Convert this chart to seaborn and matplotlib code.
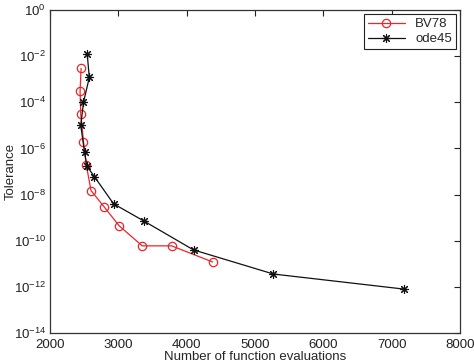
import numpy as np
import pandas as pd
import seaborn as sns
import matplotlib
matplotlib.use("Agg")
import matplotlib.pyplot as plt

# BV78 results
bv78_evals = [2455, 2440, 2450, 2490, 2530, 2600, 2790, 3010, 3350, 3780, 4380]
bv78_tol = [3e-3, 3e-4, 3e-5, 2e-6, 2e-7, 1.5e-8, 3e-9, 4.5e-10, 6e-11, 6e-11, 1.2e-11]

# ode45 results
ode45_evals = [2545, 2575, 2490, 2450, 2505, 2540, 2650, 2930, 3380, 4100, 5270, 7180]
ode45_tol = [1.2e-2, 1.2e-3, 1e-4, 1e-5, 7e-7, 1.7e-7, 6e-8, 4e-9, 7e-10, 4e-11, 3.6e-12, 8e-13]

yticks = [1e-14, 1e-12, 1e-10, 1e-8, 1e-6, 1e-4, 1e-2, 1e0]
xticks = [2000, 3000, 4000, 5000, 6000, 7000, 8000]

df = pd.concat([
    pd.DataFrame({"evals": bv78_evals, "tol": bv78_tol, "method": "BV78"}),
    pd.DataFrame({"evals": ode45_evals, "tol": ode45_tol, "method": "ode45"}),
])

sns.set_style("white")
plt.rcParams["font.family"] = ["Liberation Sans", "DejaVu Sans"]
plt.rcParams["mathtext.fontset"] = "custom"
plt.rcParams["mathtext.rm"] = "Liberation Sans"
plt.rcParams["mathtext.it"] = "Liberation Sans"

fig = plt.figure(figsize=(4.74, 3.64), dpi=100)
ax = fig.add_axes([0.1055, 0.0852, 0.865, 0.887])

asterisk = (8, 2, 0)
sns.lineplot(data=df[df.method == "BV78"], x="evals", y="tol", sort=False,
             estimator=None, color="#e8262b", lw=0.9, marker="o", ms=6,
             mfc="none", mec="#e8262b", mew=0.9, label="BV78", ax=ax)
sns.lineplot(data=df[df.method == "ode45"], x="evals", y="tol", sort=False,
             estimator=None, color="#111111", lw=0.9, marker=asterisk, ms=6.5,
             mfc="#111111", mec="#111111", mew=0.8, label="ode45", ax=ax)

ax.set_yscale("log")
ax.set_xlim(2000, 8000)
ax.set_ylim(1e-14, 1e0)
ax.set_xticks(xticks)
ax.set_yticks(yticks)
ax.yaxis.set_minor_locator(matplotlib.ticker.NullLocator())
ax.set_yticklabels([r"$10^{%d}$" % int(np.log10(v)) for v in yticks])
ax.tick_params(direction="in", length=4, width=0.8, top=True, right=True,
               labelsize=9.5, colors="#222222", pad=3)
ax.tick_params(axis="x", pad=4.5)
for s in ax.spines.values():
    s.set_color("#333333")
    s.set_linewidth(0.9)

ax.set_xlabel("Number of function evaluations", fontsize=9.5, labelpad=0)
ax.set_ylabel("Tolerance", fontsize=9.5, labelpad=0)
ax.yaxis.set_label_coords(-0.08, 0.5)

leg = ax.legend(loc="upper right", fontsize=9.5, frameon=True, fancybox=False,
                edgecolor="#222222", framealpha=1, borderpad=0.3,
                handlelength=2.8, borderaxespad=0.3, labelspacing=0.2)
leg.get_frame().set_linewidth(0.8)

fig.savefig("out.png", dpi=100)
